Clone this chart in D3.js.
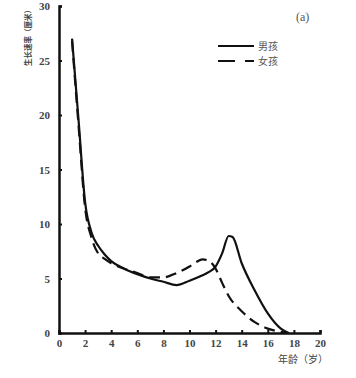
<!DOCTYPE html>
<html><head><meta charset="utf-8">
<script src="https://cdn.jsdelivr.net/npm/d3@7"></script>
<style>body{margin:0;background:#fff}svg{display:block}</style>
</head><body>
<script>
const boyAges   = [1, 1.5, 2, 2.5, 3, 3.5, 4, 5, 6, 7, 8, 9, 10, 11, 11.5, 12, 12.5, 13, 13.3, 14, 15, 16, 17, 17.6];
const boyVals   = [27, 19.5, 12, 9.2, 8.0, 7.2, 6.6, 5.9, 5.4, 5.0, 4.7, 4.4, 4.8, 5.3, 5.6, 6.1, 7.3, 8.9, 8.8, 6.4, 3.9, 1.8, 0.4, 0];
const girlAges  = [1, 1.5, 2, 2.5, 3, 3.5, 4, 5, 6, 7, 8, 9, 10, 10.5, 11, 11.5, 12, 12.5, 13, 14, 15, 16, 17, 17.5];
const girlVals  = [26.8, 19, 11.5, 8.7, 7.3, 6.8, 6.4, 5.9, 5.5, 5.1, 5.1, 5.5, 6.1, 6.5, 6.75, 6.6, 5.9, 4.6, 3.4, 2.0, 1.0, 0.4, 0.1, 0];
const xTicks = [0, 2, 4, 6, 8, 10, 12, 14, 16, 18, 20];
const yTicks = [0, 5, 10, 15, 20, 25, 30];
const legendLabels = ["男孩", "女孩"];
const xTitle = "年龄（岁）";
const yTitle = "生长速率（厘米）";
const panelLabel = "(a)";

const W = 356, H = 378;
const svg = d3.select("body").append("svg").attr("width", W).attr("height", H);
const x = d3.scaleLinear().domain([0, 20]).range([59, 320]);
const y = d3.scaleLinear().domain([0, 30]).range([333, 6]);
const tickFont = "Liberation Serif";

const xAxis = svg.append("g").attr("transform", `translate(0,${y(0)})`)
  .call(d3.axisBottom(x).tickValues(xTicks).tickSize(-3).tickPadding(6).tickFormat(d3.format("d")));
const yAxis = svg.append("g").attr("transform", `translate(${x(0)},0)`)
  .call(d3.axisLeft(y).tickValues(yTicks).tickSize(-3).tickPadding(9).tickFormat(d3.format("d")));
[xAxis, yAxis].forEach(g => {
  g.select(".domain").attr("stroke", "#111").attr("stroke-width", 2.5);
  g.selectAll(".tick line").attr("stroke", "#111").attr("stroke-width", 2);
  g.selectAll("text").attr("font-family", tickFont).attr("font-weight", "bold")
    .attr("font-size", 11).attr("fill", "#444");
});

const line = (ages, vals) => d3.line().x((d, i) => x(ages[i])).y(d => y(d)).curve(d3.curveMonotoneX)(vals);

svg.append("path").attr("d", line(girlAges, girlVals)).attr("fill", "none")
  .attr("stroke", "#111").attr("stroke-width", 2.2).attr("stroke-dasharray", "11,6");
svg.append("path").attr("d", line(boyAges, boyVals)).attr("fill", "none")
  .attr("stroke", "#111").attr("stroke-width", 2.2);

// legend
const lg = svg.append("g");
[0, 1].forEach(i => {
  const ly = 46 + i * 15;
  lg.append("line").attr("x1", 218).attr("x2", 254).attr("y1", ly).attr("y2", ly)
    .attr("stroke", "#111").attr("stroke-width", 2.2)
    .attr("stroke-dasharray", i === 1 ? "17,10" : null);
  lg.append("text").attr("x", 258).attr("y", ly + 4).text(legendLabels[i])
    .attr("font-family", "Noto Sans CJK SC").attr("font-size", 10).attr("fill", "#555");
});

svg.append("text").attr("x", 296).attr("y", 21).text(panelLabel)
  .attr("font-family", "Liberation Serif").attr("font-size", 12).attr("fill", "#555");

svg.append("text").attr("x", 278).attr("y", 363).text(xTitle)
  .attr("font-family", "Noto Sans CJK SC").attr("font-size", 10).attr("fill", "#444");

svg.append("text").attr("transform", "translate(31,66) rotate(-90)").text(yTitle)
  .attr("font-family", "Noto Sans CJK SC").attr("font-size", 7.5).attr("font-weight", "bold").attr("fill", "#444");
</script>
</body></html>
